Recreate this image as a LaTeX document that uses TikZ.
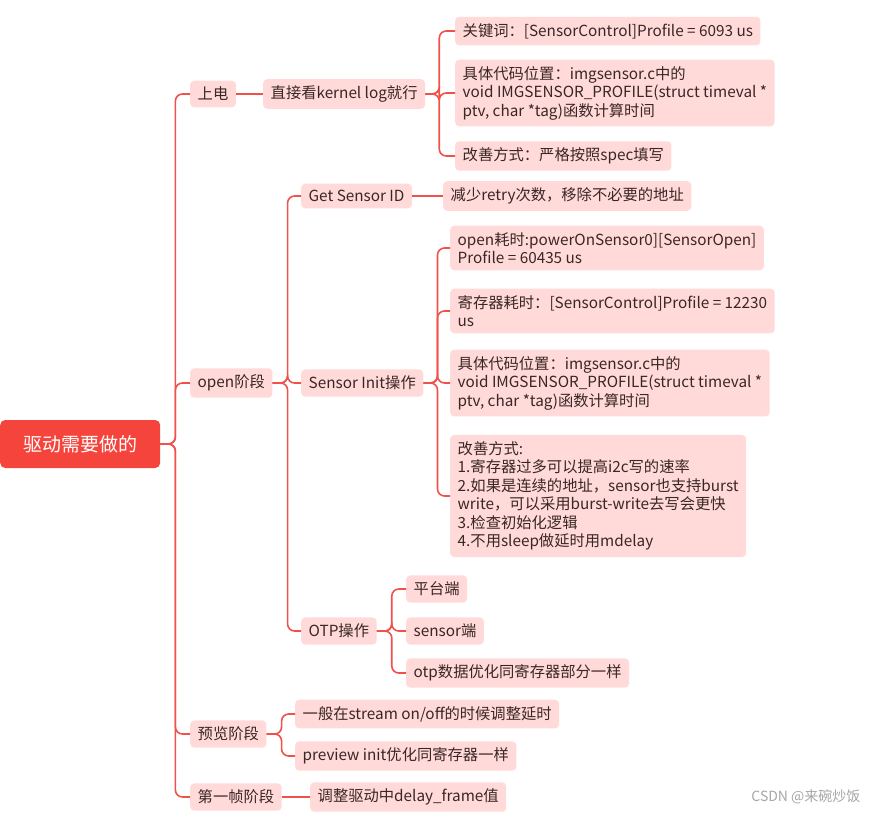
\documentclass[tikz,border=0pt]{standalone}
\usepackage{fontspec}
\setmainfont{Noto Sans CJK SC}
\definecolor{ln}{HTML}{F0524B}
\definecolor{rt}{HTML}{F5443C}
\definecolor{bx}{HTML}{FFDAD8}
\definecolor{tx}{HTML}{3A2626}
\begin{document}
\begin{tikzpicture}[x=1pt,y=-1pt,
 box/.style={fill=bx,rounded corners=4pt,anchor=west,inner xsep=7.5pt,inner ysep=6.5pt,align=left,text=tx,font=\fontsize{15.3}{18.5}\selectfont},
 conn/.style={draw=ln,line width=1.6pt,rounded corners=7pt}]
\useasboundingbox (0,0) rectangle (877,814);
\node[fill=rt,rounded corners=5pt,text=white,font=\fontsize{19}{22}\selectfont,minimum width=160pt,minimum height=48pt,anchor=west] (root) at (0,444) {驱动需要做的};
\node[box] (sd) at (190,94) {上电};
\node[box] (kl) at (263,94) {直接看kernel log就行};
\node[box] (k1) at (455,31) {关键词：[SensorControl]Profile = 6093 us};
\node[box] (k2) at (455,93) {具体代码位置：imgsensor.c中的\\void IMGSENSOR\_PROFILE(struct timeval *\\ptv, char *tag)函数计算时间};
\node[box] (k3) at (455,156) {改善方式：严格按照spec填写};
\node[box] (op) at (190,383) {open阶段};
\node[box] (gs) at (301,196) {Get Sensor ID};
\node[box] (g1) at (443,196) {减少retry次数，移除不必要的地址};
\node[box] (si) at (301,383) {Sensor Init操作};
\node[box] (s1) at (450,248) {open耗时:powerOnSensor0][SensorOpen]\\Profile = 60435 us};
\node[box] (s2) at (450,311) {寄存器耗时：[SensorControl]Profile = 12230\\us};
\node[box] (s3) at (450,383) {具体代码位置：imgsensor.c中的\\void IMGSENSOR\_PROFILE(struct timeval *\\ptv, char *tag)函数计算时间};
\node[box] (s4) at (450,496) {改善方式:\\1.寄存器过多可以提高i2c写的速率\\2.如果是连续的地址，sensor也支持burst\\write，可以采用burst-write去写会更快\\3.检查初始化逻辑\\4.不用sleep做延时用mdelay};
\node[box] (ot) at (301,631) {OTP操作};
\node[box] (o1) at (406,589) {平台端};
\node[box] (o2) at (406,631) {sensor端};
\node[box] (o3) at (406,673) {otp数据优化同寄存器部分一样};
\node[box] (pv) at (190,734) {预览阶段};
\node[box] (p1) at (295,714) {一般在stream on/off的时候调整延时};
\node[box] (p2) at (295,756) {preview init优化同寄存器一样};
\node[box] (ff) at (190,797) {第一帧阶段};
\node[box] (f1) at (310,797) {调整驱动中delay\_frame值};
\node[anchor=east,text=gray!70,font=\fontsize{14}{16}\selectfont] (wm) at (864,797) {CSDN @来碗炒饭};
\foreach \c in {sd,op,pv,ff} \draw[conn] (root.east) -- ++(15,0) |- (\c.west);
\draw[conn] (sd.east) -- (kl.west);
\foreach \c in {k1,k2,k3} \draw[conn] (kl.east) -- ++(14,0) |- (\c.west);
\foreach \c in {gs,si,ot} \draw[conn] (op.east) -- ++(15,0) |- (\c.west);
\draw[conn] (gs.east) -- (g1.west);
\foreach \c in {s1,s2,s3,s4} \draw[conn] (si.east) -- ++(14,0) |- (\c.west);
\foreach \c in {o1,o2,o3} \draw[conn] (ot.east) -- ++(15,0) |- (\c.west);
\foreach \c in {p1,p2} \draw[conn] (pv.east) -- ++(15,0) |- (\c.west);
\draw[conn] (ff.east) -- (f1.west);
\end{tikzpicture}
\end{document}
